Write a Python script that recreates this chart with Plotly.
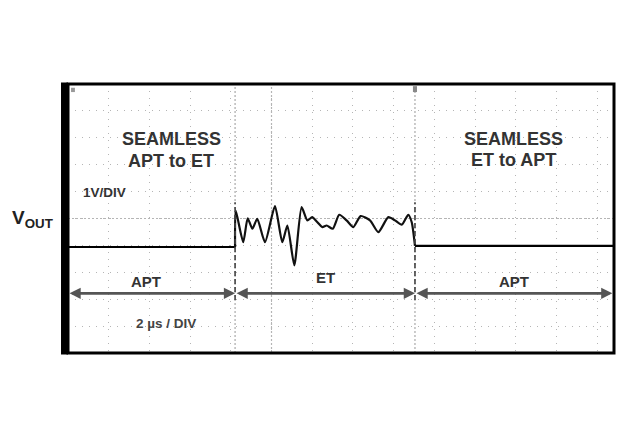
import plotly.graph_objects as go

# scope capture: one grid cell = 2 us, 1 V
time_us = [0.0, 8.21, 8.24, 8.61, 8.83, 9.06, 9.30, 9.68, 10.17, 10.53, 10.78, 11.12,
           11.48, 11.76, 12.00, 12.22, 12.50, 12.71, 13.01, 13.33, 13.69, 14.02, 14.38,
           14.84, 15.25, 15.74, 16.07, 16.40, 16.72, 16.89, 17.05, 26.83]
v_out = [3.94, 3.94, 5.30, 4.12, 5.01, 4.62, 4.99, 4.12, 5.46, 4.12, 4.74, 3.26,
         5.42, 4.93, 5.05, 4.89, 4.68, 4.74, 4.62, 5.14, 4.93, 4.68, 5.09,
         4.93, 4.49, 5.05, 4.93, 4.77, 5.14, 4.86, 3.98, 3.98]

# mode changes (us) and the spans between them
mode_edges = [0.0, 8.21, 17.05, 26.75]
mode_labels = ["APT", "ET", "APT"]
switch_times = [8.21, 17.05]

x_range = [0, 26.83]
y_range = [0, 10]

label_color = "#333333"
grid_color = "#b5b5b5"

fig = go.Figure()

# flat APT parts as straight lines, the ET burst smoothed like the scope trace
fig.add_trace(go.Scatter(x=time_us[:2], y=v_out[:2], mode="lines",
                         line=dict(color="black", width=2.2), hoverinfo="skip",
                         showlegend=False))
fig.add_trace(go.Scatter(x=time_us[-2:], y=v_out[-2:], mode="lines",
                         line=dict(color="black", width=2.2), hoverinfo="skip",
                         showlegend=False))
fig.add_trace(go.Scatter(x=time_us[1:-1], y=v_out[1:-1], mode="lines",
                         line=dict(color="#111111", width=2.2, shape="spline", smoothing=0.6),
                         hoverinfo="skip", showlegend=False))

shapes = []
# denser centre lines of the scope graticule
shapes.append(dict(type="line", xref="x", yref="y", x0=10, x1=10, y0=0, y1=10,
                   line=dict(color=grid_color, width=1.2, dash="2px,2px"), layer="below"))
shapes.append(dict(type="line", xref="x", yref="y", x0=0, x1=x_range[1], y0=5, y1=5,
                   line=dict(color=grid_color, width=1.2, dash="2px,2px"), layer="below"))

# switch markers
for t in switch_times:
    shapes.append(dict(type="line", xref="x", yref="y", x0=t, x1=t, y0=0, y1=10,
                       line=dict(color="#aaaaaa", width=1.2, dash="2px,2px"), layer="below"))
    shapes.append(dict(type="line", xref="x", yref="y", x0=t, x1=t, y0=1.97, y1=5.6,
                       line=dict(color="#444444", width=1.6, dash="5px,3px")))

# small trigger / channel marks
shapes.append(dict(type="rect", xref="x", yref="y", x0=16.95, x1=17.15, y0=9.7, y1=9.92,
                   fillcolor="#888888", line=dict(width=0)))
shapes.append(dict(type="rect", xref="x", yref="y", x0=0.15, x1=0.34, y0=9.7, y1=9.86,
                   fillcolor="#999999", line=dict(width=0)))

# screen frame with the heavy left edge
shapes.append(dict(type="rect", xref="paper", yref="paper", x0=0, x1=1, y0=0, y1=1,
                   line=dict(color="black", width=3)))
shapes.append(dict(type="rect", xref="paper", yref="paper", x0=-0.0128, x1=0,
                   y0=-0.006, y1=1.006, fillcolor="black", line=dict(width=0)))

annotations = []
arrow_y = 2.22
for i, lab in enumerate(mode_labels):
    x0, x1 = mode_edges[i], mode_edges[i + 1]
    annotations.append(dict(x=x1, y=arrow_y, ax=x0, ay=arrow_y, xref="x", yref="y",
                            axref="x", ayref="y", text="", showarrow=True,
                            arrowside="end+start", arrowhead=2, startarrowhead=2,
                            arrowsize=0.8, startarrowsize=0.8, arrowwidth=2.8,
                            arrowcolor="#555555"))
    label_y = 2.81 if lab == "ET" else 2.67
    annotations.append(dict(x=(x0 + x1) / 2 - (0.25 if i == 0 else 0), y=label_y,
                            xref="x", yref="y", text="<b>%s</b>" % lab, showarrow=False,
                            font=dict(size=15, color=label_color)))

bold18 = dict(family="Liberation Sans, Arial, sans-serif", size=18, color=label_color)
annotations += [
    dict(x=5.08, y=7.96, text="<b>SEAMLESS</b>", font=bold18),
    dict(x=5.08, y=7.12, text="<b>APT to ET</b>", font=bold18),
    dict(x=21.9, y=7.96, text="<b>SEAMLESS</b>", font=bold18),
    dict(x=21.9, y=7.17, text="<b>ET to APT</b>", font=bold18),
    dict(x=0.66, y=5.95, text="<b>1V/DIV</b>", xanchor="left",
         font=dict(size=13.5, color=label_color)),
    dict(x=4.81, y=1.08, text="<b>2 µs / DIV</b>",
         font=dict(size=13.5, color="#444444")),
]
for a in annotations[-6:]:
    a.update(xref="x", yref="y", showarrow=False)

annotations.append(dict(x=-0.106, y=5.0, xref="paper", yref="y", xanchor="left",
                        text="<b>V<sub>OUT</sub></b>", showarrow=False,
                        font=dict(size=19, color="#222222")))

# the page body keeps its 8px margin, so the figure is sized to sit inside it
fig.update_layout(
    width=622, height=424,
    margin=dict(l=60, r=16, t=76, b=79),
    paper_bgcolor="white", plot_bgcolor="white",
    font=dict(family="Liberation Sans, Arial, sans-serif"),
    shapes=shapes, annotations=annotations,
    xaxis=dict(range=x_range, dtick=2, tick0=0, showgrid=True, gridcolor=grid_color,
               griddash="1px,6px", gridwidth=1.2, zeroline=False, showticklabels=False,
               ticks="", showline=False, fixedrange=True),
    yaxis=dict(range=y_range, dtick=1, tick0=0, showgrid=True, gridcolor=grid_color,
               griddash="1px,6px", gridwidth=1.2, zeroline=False, showticklabels=False,
               ticks="", showline=False, fixedrange=True),
)

fig.write_html("out.html")
